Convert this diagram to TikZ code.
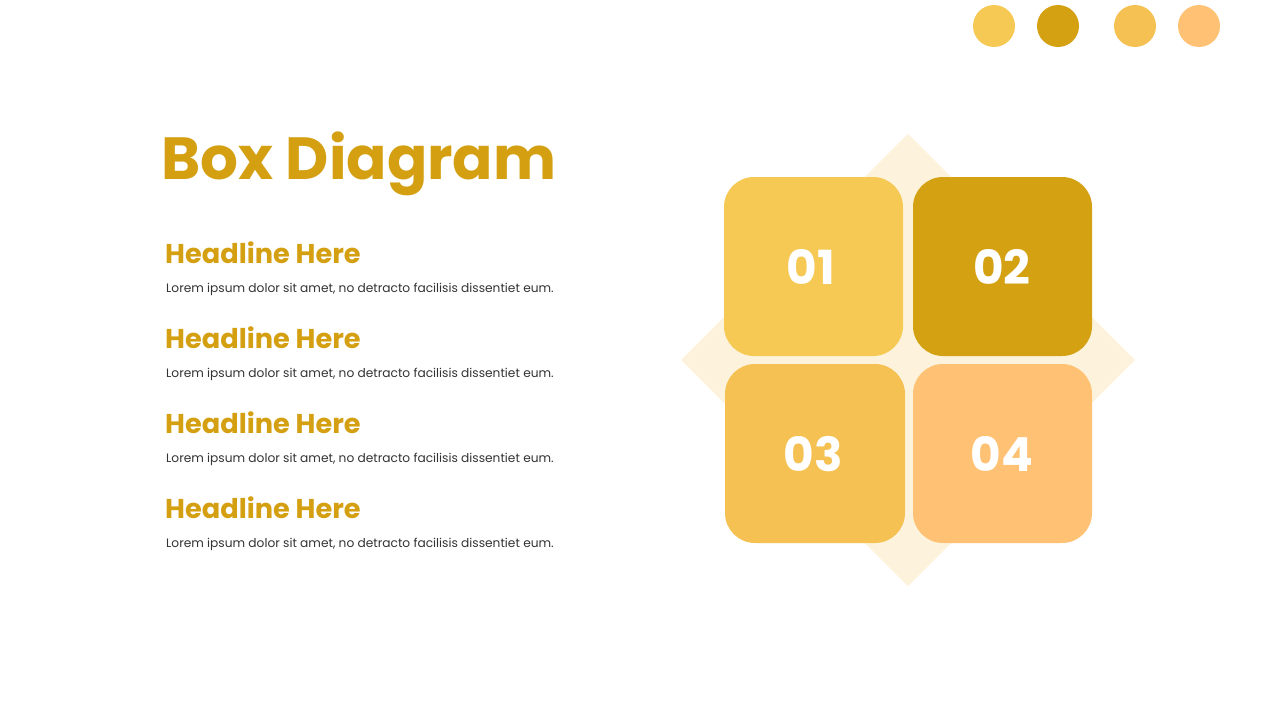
\documentclass[tikz,border=0pt]{standalone}
\usepackage{fontspec}
\setmainfont{Poppins}
\definecolor{cA}{HTML}{F6C955}
\definecolor{cB}{HTML}{D4A112}
\definecolor{cC}{HTML}{F5C152}
\definecolor{cD}{HTML}{FFC274}
\definecolor{dia}{HTML}{FDF3DC}
\definecolor{gold}{HTML}{D4A012}
\definecolor{body}{HTML}{333333}
\begin{document}
\begin{tikzpicture}[x=1pt,y=-1pt,
  box/.style={rounded corners=30pt},
  num/.style={text=white,font=\fontsize{47}{47}\selectfont\bfseries},
  dot/.style={circle,minimum size=42pt,inner sep=0pt},
  head/.style={anchor=base west,inner sep=0pt,text=gold,font=\fontsize{27.2}{27}\selectfont\bfseries},
  txt/.style={anchor=base west,inner sep=0pt,text=body,font=\fontsize{12.2}{12}\selectfont}]
\useasboundingbox (0,0) rectangle (1280,720);
\fill[white] (0,0) rectangle (1280,720);
% diamond
\fill[dia] (908,134) -- (1135,360) -- (908,586) -- (681,360) -- cycle;
% boxes
\fill[cA,box] (724,177) rectangle (903,356);
\fill[cB,box] (913,177) rectangle (1092,356);
\fill[cC,box] (725,364) rectangle (905,543);
\fill[cD,box] (913,364) rectangle (1092,543);
\node[num] (n1) at (811,267) {01};
\node[num] (n2) at (1002,267) {02};
\node[num] (n3) at (813,454) {03};
\node[num] (n4) at (1002,454) {04};
% dots
\node[dot,fill=cA] (d1) at (994,26) {};
\node[dot,fill=cB] (d2) at (1058,26) {};
\node[dot,fill=cC] (d3) at (1135,26) {};
\node[dot,fill=cD] (d4) at (1199,26) {};
% title
\node[anchor=base west,inner sep=0pt,text=gold,font=\fontsize{59.5}{60}\selectfont\bfseries] (title) at (161,179) {Box Diagram};
% items
\foreach \i/\y in {1/263,2/348,3/433,4/518}{
  \node[head] (h\i) at (165,\y) {Headline Here};
  \node[txt] (t\i) at (166,\y+29) {Lorem ipsum dolor sit amet, no detracto facilisis dissentiet eum.};
}
\end{tikzpicture}
\end{document}
